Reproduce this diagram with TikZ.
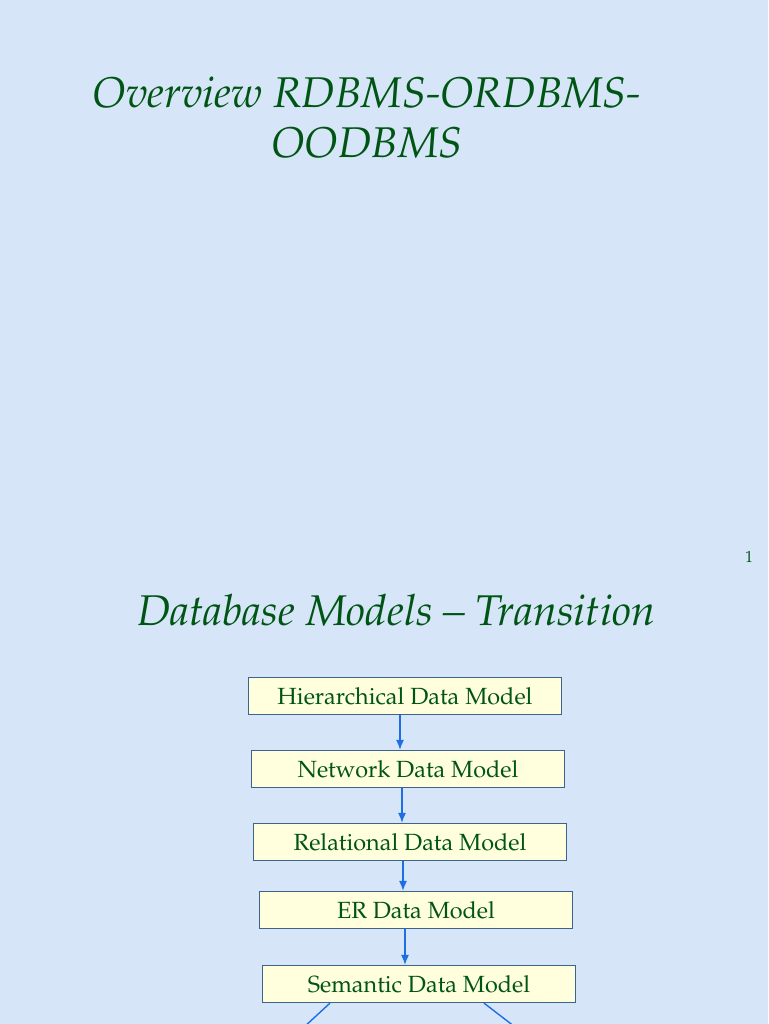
\documentclass[tikz,border=0pt]{standalone}
\usepackage[T1]{fontenc}
\usepackage{mathpazo}
\usetikzlibrary{arrows.meta}
\definecolor{slidebg}{RGB}{214,230,248}
\definecolor{boxfill}{RGB}{255,255,221}
\definecolor{boxline}{RGB}{60,100,140}
\definecolor{textgreen}{RGB}{0,85,20}
\definecolor{arrowblue}{RGB}{30,110,230}
\begin{document}
\begin{tikzpicture}[x=0.5pt,y=-0.5pt]
      \fill[slidebg] (0,0) rectangle (768,1024);
      \useasboundingbox (0,0) rectangle (768,1024);
      \clip (0,0) rectangle (768,1024);
      \begin{scope}[every node/.style={text=textgreen,inner sep=0pt,font=\fontsize{21.5}{25}\selectfont\itshape}]
        \node (titlea) at (367,92) {Overview RDBMS-ORDBMS-};
        \node (titleb) at (367,143) {OODBMS};
        \node (titlec) at (396,610) {Database Models -- Transition};
      \end{scope}
      \node[text=textgreen,inner sep=0pt,font=\fontsize{8}{9}\selectfont] (pagenum) at (749,557) {1};
      \begin{scope}[every node/.style={draw=boxline,line width=0.6pt,fill=boxfill,text=textgreen,minimum width=156.5pt,minimum height=18.5pt,inner sep=0pt,font=\fontsize{11.7}{14}\selectfont}]
        \node (hier) at (405,696) {Hierarchical Data Model};
        \node (net) at (408,769) {Network Data Model};
        \node (rel) at (410,842) {Relational Data Model};
        \node (er) at (416,910) {ER Data Model};
        \node (sem) at (419,984) {Semantic Data Model};
      \end{scope}
      \coordinate (objl) at (290,1040);
      \coordinate (objr) at (532,1040);
      \begin{scope}[every edge/.style={draw=arrowblue,line width=0.7pt,-{Latex[length=5pt,width=4pt]}}]
        \path ([xshift=-2.5pt]hier.south) edge ([xshift=-2.5pt]hier.south |- net.north);
        \path ([xshift=-3pt]net.south) edge ([xshift=-3pt]net.south |- rel.north);
        \path ([xshift=-3.5pt]rel.south) edge ([xshift=-3.5pt]rel.south |- er.north);
        \path ([xshift=-5.5pt]er.south) edge ([xshift=-5.5pt]er.south |- sem.north);
        \path ([xshift=-44.5pt]sem.south) edge (objl);
        \path ([xshift=32.5pt]sem.south) edge (objr);
      \end{scope}
    \end{tikzpicture}
\end{document}
